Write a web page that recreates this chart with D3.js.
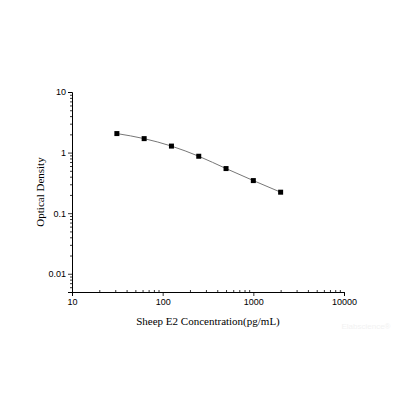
<!DOCTYPE html>
<html>
<head>
<meta charset="utf-8">
<script src="https://cdn.jsdelivr.net/npm/d3@7"></script>
<style>
  body { margin: 0; background: #fff; }
  svg { display: block; }
</style>
</head>
<body>
<div id="chart"></div>
<script>
// standard curve data
var concentrations = [31.25, 62.5, 125, 250, 500, 1000, 2000];
var densities      = [2.06, 1.70, 1.28, 0.87, 0.545, 0.345, 0.222];
var xTickValues    = [10, 100, 1000, 10000];
var yTickValues    = [0.01, 0.1, 1, 10];
var xTitle = "Sheep E2 Concentration(pg/mL)";
var yTitle = "Optical Density";

var W = 400, H = 400;
var LEFT = 72, RIGHT = 344, TOP = 92, BOTTOM = 292;

var svg = d3.select('#chart').append('svg')
  .attr('width', W)
  .attr('height', H);

var x = d3.scaleLog().domain([10, 10000]).range([LEFT, RIGHT]);
var y = d3.scaleLog().domain([0.005, 10]).range([BOTTOM, TOP]);

// minor ticks for each decade
function minors(lo, hi) {
  var out = [];
  for (var d = lo; d < hi; d *= 10)
    for (var k = 2; k <= 9; k++) out.push(d * k);
  return out;
}
var yMinor = minors(0.001, 10).filter(v => v >= 0.005 && v <= 10);
var xMinor = minors(10, 10000);

// y axis
var yAxis = svg.append('g')
  .attr('transform', 'translate(' + LEFT + ',0)')
  .call(d3.axisLeft(y).tickValues(yTickValues).tickSize(4).tickPadding(2)
    .tickFormat(d => d >= 1 ? d3.format('d')(d) : String(d)));
svg.append('g')
  .attr('transform', 'translate(' + LEFT + ',0)')
  .call(d3.axisLeft(y).tickValues(yMinor).tickSize(2).tickFormat(''))
  .select('.domain').remove();

// x axis
var xAxis = svg.append('g')
  .attr('transform', 'translate(0,' + BOTTOM + ')')
  .call(d3.axisBottom(x).tickValues(xTickValues).tickSize(4).tickPadding(3)
    .tickFormat(d3.format('d')));
svg.append('g')
  .attr('transform', 'translate(0,' + BOTTOM + ')')
  .call(d3.axisBottom(x).tickValues(xMinor).tickSize(-2).tickFormat(''))
  .select('.domain').remove();

svg.selectAll('.domain').attr('stroke', '#000').attr('stroke-width', 1);
svg.selectAll('.tick line').attr('stroke', '#000').attr('stroke-width', 0.8);
svg.selectAll('.tick text')
  .style('font-family', 'Liberation Sans, Arial, sans-serif')
  .style('font-size', '9px')
  .attr('fill', '#000');

// curve
var line = d3.line()
  .x((d, i) => x(concentrations[i]))
  .y(d => y(d))
  .curve(d3.curveMonotoneX);
svg.append('path').datum(densities)
  .attr('fill', 'none')
  .attr('stroke', '#777')
  .attr('stroke-width', 1)
  .attr('d', line);

svg.selectAll('rect.pt').data(densities).enter().append('rect')
  .attr('class', 'pt')
  .attr('x', (d, i) => x(concentrations[i]) - 2.5)
  .attr('y', d => y(d) - 2.5)
  .attr('width', 5)
  .attr('height', 5)
  .attr('fill', '#000');

// titles
svg.append('text')
  .attr('x', (LEFT + RIGHT) / 2)
  .attr('y', 325)
  .attr('text-anchor', 'middle')
  .style('font-family', 'Liberation Serif, Times New Roman, serif')
  .style('font-size', '11px')
  .text(xTitle);

svg.append('text')
  .attr('transform', 'translate(44,' + ((TOP + BOTTOM) / 2) + ') rotate(-90)')
  .attr('text-anchor', 'middle')
  .style('font-family', 'Liberation Serif, Times New Roman, serif')
  .style('font-size', '11px')
  .text(yTitle);

// faint watermark
svg.append('text')
  .attr('x', 366)
  .attr('y', 329)
  .attr('text-anchor', 'middle')
  .style('font-family', 'Liberation Sans, Arial, sans-serif')
  .style('font-size', '8px')
  .attr('fill', '#f2f2f2')
  .text('Elabscience®');
</script>
</body>
</html>
